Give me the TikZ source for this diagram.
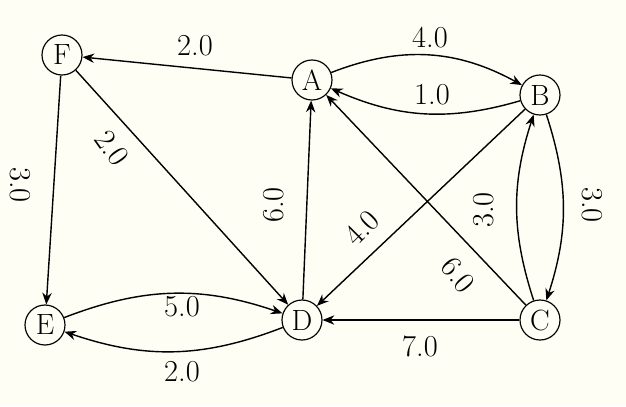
\documentclass[tikz,border=0pt]{standalone}
\usetikzlibrary{arrows.meta}
\begin{document}
\begin{tikzpicture}[x=0.03cm,y=-0.03cm,
  vtx/.style={circle,draw,line width=1pt,minimum size=1.2cm,inner sep=0pt,font=\fontsize{25}{27}\selectfont},
  edge/.style={draw,line width=1.2pt,-{Stealth[length=10pt,width=8pt]}},
  lab/.style={font=\fontsize{26}{28}\selectfont,inner sep=1pt}]
\fill[white!96!yellow] (0,0) rectangle (626,406);
\useasboundingbox (0,0) rectangle (626,406);
\node[vtx] (F) at (62,55) {F};
\node[vtx] (A) at (312,80) {A};
\node[vtx] (B) at (540,95) {B};
\node[vtx] (E) at (45,325) {E};
\node[vtx] (D) at (302,320) {D};
\node[vtx] (C) at (540,320) {C};
\draw[edge] (A) -- (F);
\draw[edge] (A) to[bend left=25] (B);
\draw[edge] (B) to[bend left=20] (A);
\draw[edge] (F) -- (E);
\draw[edge] (F) -- (D);
\draw[edge] (D) -- (A);
\draw[edge] (B) -- (D);
\draw[edge] (C) -- (A);
\draw[edge] (C) to[bend left=18] (B);
\draw[edge] (B) to[bend left=18] (C);
\draw[edge] (E) to[bend left=20] (D);
\draw[edge] (D) to[bend left=20] (E);
\draw[edge] (C) -- (D);
\node[lab] (l1) at (195,46) {2.0};
\node[lab] (l2) at (430,38) {4.0};
\node[lab] (l3) at (432,95) {1.0};
\node[lab,rotate=-90] (l4) at (20,185) {3.0};
\node[lab,rotate=-55] (l5) at (112,148) {2.0};
\node[lab,rotate=90] (l6) at (274,205) {6.0};
\node[lab,rotate=45] (l7) at (362,228) {4.0};
\node[lab,rotate=-50] (l8) at (458,275) {6.0};
\node[lab,rotate=90] (l9) at (484,210) {3.0};
\node[lab,rotate=-90] (l10) at (592,205) {3.0};
\node[lab] (l11) at (182,307) {5.0};
\node[lab] (l12) at (182,372) {2.0};
\node[lab] (l13) at (420,346) {7.0};
\end{tikzpicture}
\end{document}
